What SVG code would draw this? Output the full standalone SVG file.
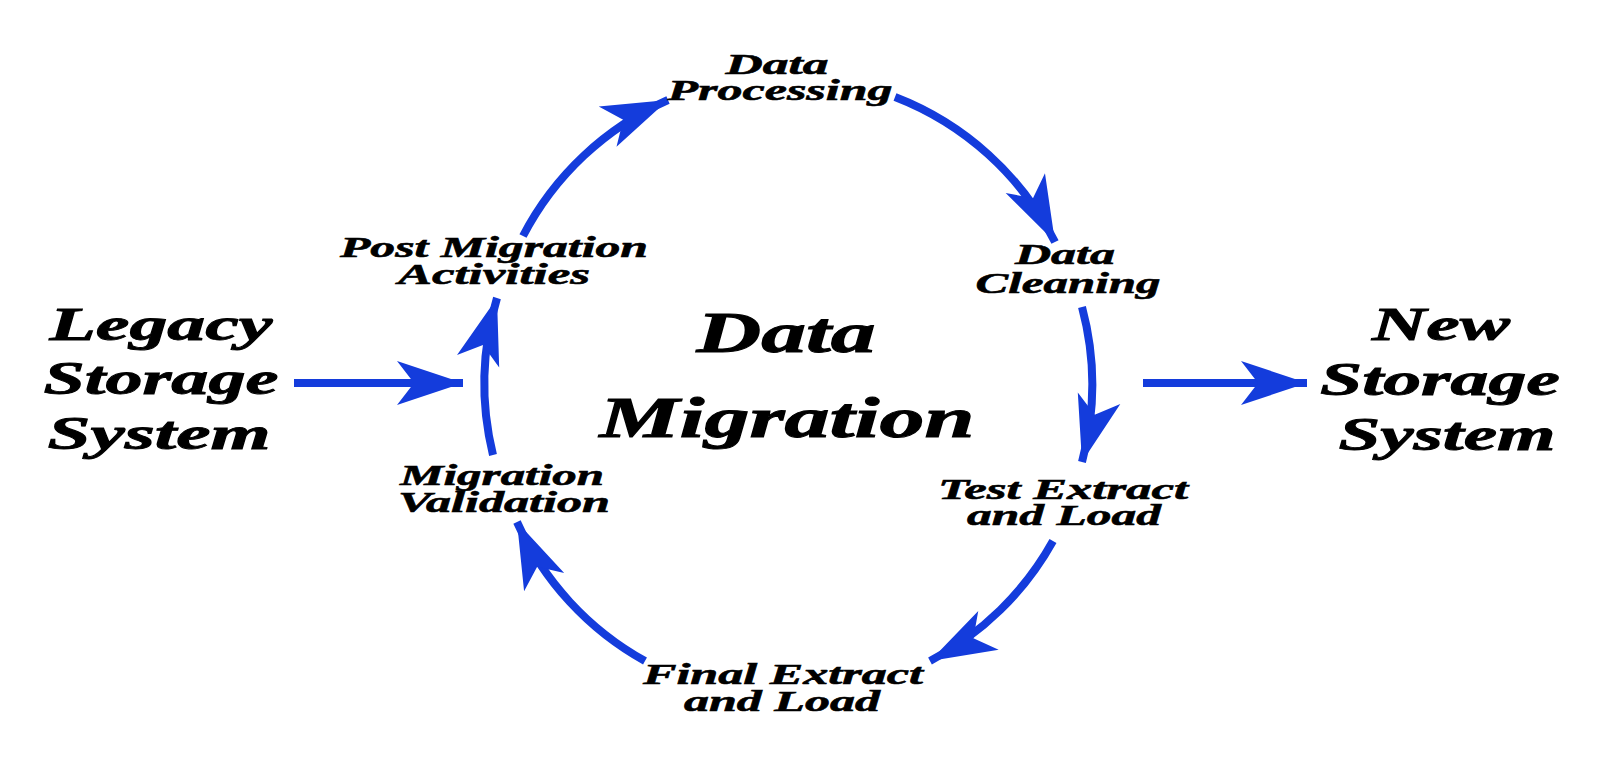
<svg xmlns="http://www.w3.org/2000/svg" width="1600" height="784" viewBox="0 0 1600 784">
<style>
  text { font-family: "Liberation Serif", "Times New Roman", serif; font-weight: bold; font-style: italic; fill: #000; stroke: #000; stroke-width: 0.6; text-anchor: middle; }
  .s { font-size: 30px; }
  .m { font-size: 47px; stroke-width: 0.9; }
  .l { font-size: 58px; stroke-width: 1; }
  .arc { fill: none; stroke: #143cdc; stroke-width: 8; marker-end: url(#ah); }
</style>
<defs>
  <marker id="ah" markerUnits="userSpaceOnUse" markerWidth="80" markerHeight="60" viewBox="-72 -30 80 60" refX="0" refY="0" orient="auto">
    <path d="M0,0 L-66,-22 L-49,0 L-66,22 Z" fill="#143cdc"/>
  </marker>
</defs>
<rect width="1600" height="784" fill="#ffffff"/>
<g id="connectors">
  <path class="arc" d="M294,383 L463,383"/>
  <path class="arc" d="M1143,383 L1307,383"/>
  <path class="arc" d="M523,236 A300,300 0 0 1 668,100"/>
  <path class="arc" d="M895,97 A300,300 0 0 1 1055,242"/>
  <path class="arc" d="M1082,307 A300,300 0 0 1 1082,462"/>
  <path class="arc" d="M1053,541 A300,300 0 0 1 930,661"/>
  <path class="arc" d="M645,661 A300,300 0 0 1 517,522"/>
  <path class="arc" d="M493,455 A300,300 0 0 1 497,298"/>
</g>
<g id="legacy">
  <text class="m" x="161" y="340" textLength="223" lengthAdjust="spacingAndGlyphs">Legacy</text>
  <text class="m" x="161" y="394" textLength="235" lengthAdjust="spacingAndGlyphs">Storage</text>
  <text class="m" x="159" y="449" textLength="223" lengthAdjust="spacingAndGlyphs">System</text>
</g>
<g id="new-storage">
  <text class="m" x="1441" y="340" textLength="138" lengthAdjust="spacingAndGlyphs">New</text>
  <text class="m" x="1440" y="395" textLength="240" lengthAdjust="spacingAndGlyphs">Storage</text>
  <text class="m" x="1447" y="450" textLength="217" lengthAdjust="spacingAndGlyphs">System</text>
</g>
<g id="center">
  <text class="l" x="786" y="352" textLength="179" lengthAdjust="spacingAndGlyphs">Data</text>
  <text class="l" x="787" y="437" textLength="375" lengthAdjust="spacingAndGlyphs">Migration</text>
</g>
<g id="data-processing">
  <text class="s" x="777" y="74" textLength="103" lengthAdjust="spacingAndGlyphs">Data</text>
  <text class="s" x="780" y="100" textLength="225" lengthAdjust="spacingAndGlyphs">Processing</text>
</g>
<g id="data-cleaning">
  <text class="s" x="1065" y="264" textLength="100" lengthAdjust="spacingAndGlyphs">Data</text>
  <text class="s" x="1068" y="293" textLength="185" lengthAdjust="spacingAndGlyphs">Cleaning</text>
</g>
<g id="test-extract">
  <text class="s" x="1063" y="499" textLength="250" lengthAdjust="spacingAndGlyphs">Test Extract</text>
  <text class="s" x="1064" y="525" textLength="194" lengthAdjust="spacingAndGlyphs">and Load</text>
</g>
<g id="final-extract">
  <text class="s" x="783" y="684" textLength="280" lengthAdjust="spacingAndGlyphs">Final Extract</text>
  <text class="s" x="782" y="711" textLength="196" lengthAdjust="spacingAndGlyphs">and Load</text>
</g>
<g id="migration-validation">
  <text class="s" x="502" y="485" textLength="204" lengthAdjust="spacingAndGlyphs">Migration</text>
  <text class="s" x="504" y="512" textLength="212" lengthAdjust="spacingAndGlyphs">Validation</text>
</g>
<g id="post-migration">
  <text class="s" x="494" y="257" textLength="308" lengthAdjust="spacingAndGlyphs">Post Migration</text>
  <text class="s" x="494" y="284" textLength="192" lengthAdjust="spacingAndGlyphs">Activities</text>
</g>
</svg>
